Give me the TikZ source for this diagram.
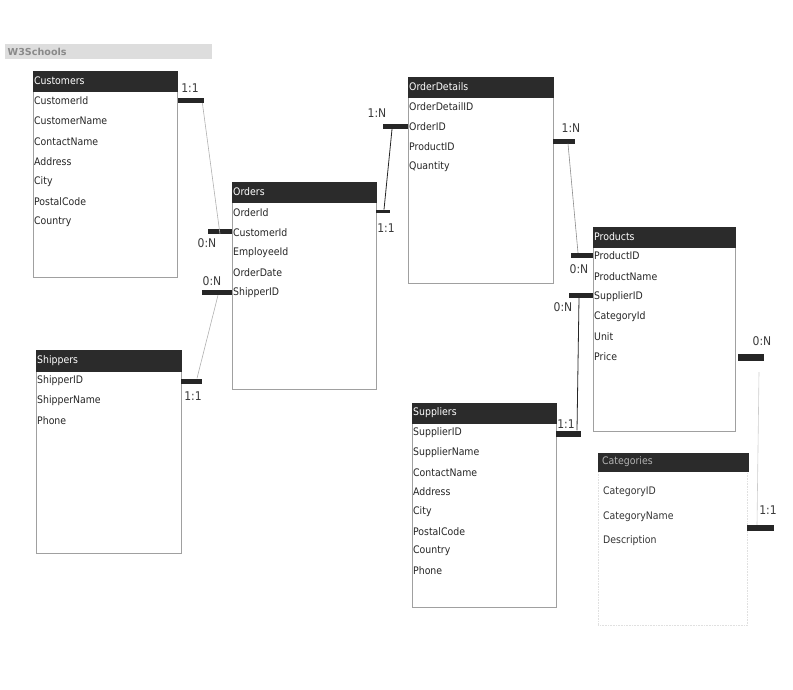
\documentclass[tikz,border=0pt]{standalone}
\usepackage{fontspec}
\setmainfont{DejaVu Sans}
\newfontfamily\tblfont{DejaVu Sans Condensed}
\definecolor{hdrfill}{HTML}{2B2B2B}
\definecolor{bordcol}{HTML}{A0A0A0}
\definecolor{barcol}{HTML}{262626}
\definecolor{linelight}{HTML}{B0B0B0}
\definecolor{bannerfill}{HTML}{DDDDDD}
\definecolor{bannertext}{HTML}{8A8A8A}
\definecolor{handcol}{HTML}{3A3A3A}
\begin{document}
\begin{tikzpicture}[x=1pt,y=-1pt,
  tbl/.style={draw=bordcol, line width=0.8pt, fill=white, anchor=north west, inner sep=0pt},
  hdr/.style={draw=hdrfill, fill=hdrfill, anchor=north west, inner sep=0pt, minimum height=20pt},
  htext/.style={anchor=west, text=white, inner sep=1pt, font=\tblfont\fontsize{10.4}{11}\selectfont},
  row/.style={anchor=west, inner sep=1pt, text=black!85, font=\tblfont\fontsize{10.4}{11}\selectfont},
  bar/.style={fill=barcol, anchor=west, inner sep=0pt, minimum height=5pt},
  hand/.style={text=handcol, inner sep=0pt, font=\tblfont\fontsize{12}{13}\selectfont},
  rel/.style={draw=linelight, line width=0.6pt},
  reldark/.style={draw=black!85, line width=0.8pt}]
\useasboundingbox (0,0) rectangle (793,689);

% banner
\node[fill=bannerfill, anchor=north west, minimum width=207pt, minimum height=15pt, inner sep=0pt] (banner) at (5,44) {};
\node[anchor=west, text=bannertext, inner sep=1pt, font=\bfseries\fontsize{9.6}{10}\selectfont] (bannert) at (6.5,51.5) {W3Schools};

% Customers
\node[tbl, minimum width=144pt, minimum height=206pt] (cust) at (33,71) {};
\node[hdr, minimum width=144pt] (custh) at (33,71) {};
\node[htext] (custt) at (33,81) {Customers};
\foreach \t [count=\i] in {CustomerId,CustomerName,ContactName,Address,City,PostalCode,Country}
  \node[row] (cust\i) at (33,{101+20.2*(\i-1)}) {\t};

% Orders
\node[tbl, minimum width=144pt, minimum height=207pt] (ord) at (232,182) {};
\node[hdr, minimum width=144pt] (ordh) at (232,182) {};
\node[htext] (ordt) at (232,192) {Orders};
\foreach \t [count=\i] in {OrderId,CustomerId,EmployeeId,OrderDate,ShipperID}
  \node[row] (ord\i) at (232,{213+20*(\i-1)}) {\t};

% OrderDetails
\node[tbl, minimum width=145pt, minimum height=206pt] (od) at (408,77) {};
\node[hdr, minimum width=145pt] (odh) at (408,77) {};
\node[htext] (odt) at (408,87) {OrderDetails};
\foreach \t [count=\i] in {OrderDetailID,OrderID,ProductID,Quantity}
  \node[row] (od\i) at (408,{107+20*(\i-1)}) {\t};

% Products
\node[tbl, minimum width=142pt, minimum height=204pt] (prod) at (593,227) {};
\node[hdr, minimum width=142pt] (prodh) at (593,227) {};
\node[htext] (prodt) at (593,237) {Products};
\foreach \t [count=\i] in {ProductID,ProductName,SupplierID,CategoryId,Unit,Price}
  \node[row] (prod\i) at (593,{256+20.2*(\i-1)}) {\t};

% Suppliers
\node[tbl, minimum width=144pt, minimum height=204pt] (sup) at (412,403) {};
\node[hdr, minimum width=144pt] (suph) at (412,403) {};
\node[htext] (supt) at (412,413) {Suppliers};
\foreach \t [count=\i] in {SupplierID,SupplierName,ContactName,Address,City,PostalCode,Country,Phone}
  \node[row] (sup\i) at (412,{433+19.7*(\i-1)}) {\t};

% Shippers
\node[tbl, minimum width=145pt, minimum height=203pt] (shp) at (36,350) {};
\node[hdr, minimum width=145pt, minimum height=21pt] (shph) at (36,350) {};
\node[htext] (shpt) at (36,360.5) {Shippers};
\foreach \t [count=\i] in {ShipperID,ShipperName,Phone}
  \node[row] (shp\i) at (36,{381+19.7*(\i-1)}) {\t};

% Categories
\node[draw=black!12, line width=0.6pt, densely dotted, anchor=north west, inner sep=0pt, minimum width=149pt, minimum height=154pt] (cat) at (598,471) {};
\node[hdr, minimum width=150pt, minimum height=18pt] (cath) at (598,453) {};
\node[htext, text=black!30] (catt) at (601,462) {Categories};
\foreach \t [count=\i] in {CategoryID,CategoryName,Description}
  \node[row, text=black!80] (cat\i) at (602,{492+24.5*(\i-1)}) {\t};

% relation bars
\node[bar, minimum width=26pt] (bcust) at (178,100.5) {};
\node[bar, minimum width=24pt] (bordc) at (208,231.5) {};
\node[bar, minimum width=30pt] (bords) at (202,292.5) {};
\node[bar, minimum width=21pt] (bshp) at (181,381) {};
\node[bar, minimum width=14pt, minimum height=3.5pt] (bordr) at (376,211.5) {};
\node[bar, minimum width=25pt] (bodl) at (383,126.5) {};
\node[bar, minimum width=22pt] (bodr) at (553,141) {};
\node[bar, minimum width=22pt] (bprodp) at (571,255.5) {};
\node[bar, minimum width=24pt] (bprods) at (569,295.5) {};
\node[bar, minimum width=25pt, minimum height=6pt] (bsup) at (556,433.5) {};
\node[bar, minimum width=26pt, minimum height=7pt] (bprice) at (738,357.5) {};
\node[bar, minimum width=27pt, minimum height=6pt] (bcat) at (747,528) {};

% connectors
\coordinate (pprice) at (759,372);
\draw[rel] ([xshift=-2pt]bcust.south east) -- ([xshift=12pt]bordc.south west);
\draw[rel] ([xshift=16pt]bords.south west) -- ([xshift=16pt]bshp.north west);
\draw[reldark] ([xshift=8pt]bordr.north west) -- ([xshift=9pt]bodl.south west);
\draw[rel, draw=black!45] ([xshift=15pt]bodr.south west) -- ([xshift=7pt]bprodp.north west);
\draw[reldark] ([xshift=10pt]bprods.south west) -- ([xshift=21pt]bsup.north west);
\draw[rel, draw=black!20] (pprice) -- ([xshift=10pt]bcat.north west);

% cardinality labels
\node[hand] (l1) at (190,88) {1:1};
\node[hand] (l2) at (207,243) {0:N};
\node[hand] (l3) at (212,281) {0:N};
\node[hand] (l4) at (193,396) {1:1};
\node[hand] (l5) at (386,228) {1:1};
\node[hand] (l6) at (377,113) {1:N};
\node[hand] (l7) at (571,128) {1:N};
\node[hand] (l8) at (579,269) {0:N};
\node[hand] (l9) at (563,307) {0:N};
\node[hand] (l10) at (566,424) {1:1};
\node[hand] (l11) at (762,341) {0:N};
\node[hand] (l12) at (768,510) {1:1};
\end{tikzpicture}
\end{document}
